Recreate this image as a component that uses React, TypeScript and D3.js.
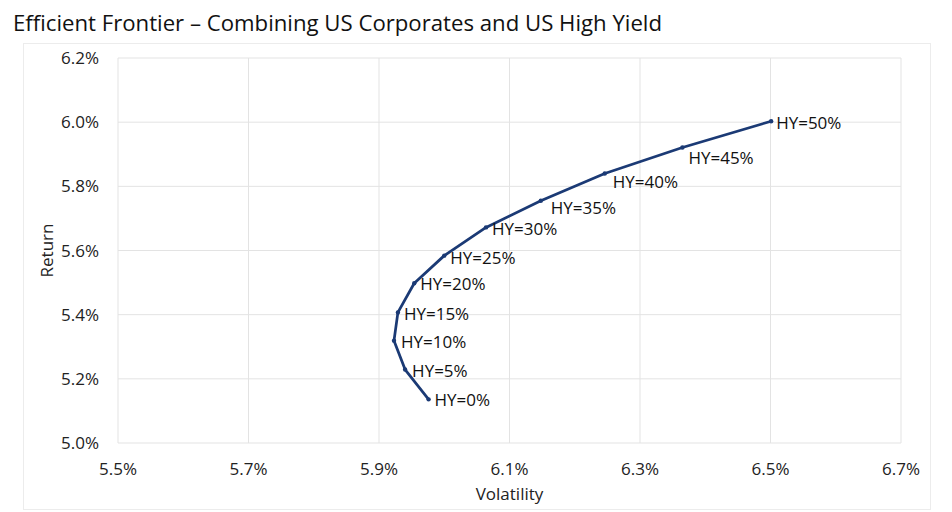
import React from "react";
import * as d3 from "d3";

const hyLabels = ["HY=0%", "HY=5%", "HY=10%", "HY=15%", "HY=20%", "HY=25%", "HY=30%", "HY=35%", "HY=40%", "HY=45%", "HY=50%"];
const volatility = [5.976, 5.940, 5.923, 5.929, 5.954, 6.000, 6.064, 6.148, 6.246, 6.365, 6.501];
const returns = [5.136, 5.229, 5.319, 5.407, 5.498, 5.584, 5.672, 5.755, 5.840, 5.921, 6.003];
const labelDx = [6, 7, 7, 6, 6, 6, 6, 10, 8, 6, 5];
const labelDy = [1, 1, 1, 1, 1, 2, 1.5, 7, 8, 10, 1.5];
const xTicks = [5.5, 5.7, 5.9, 6.1, 6.3, 6.5, 6.7];
const yTicks = [5.0, 5.2, 5.4, 5.6, 5.8, 6.0, 6.2];

const W = 952;
const H = 512;
const plot = { left: 118, right: 901, top: 58, bottom: 443 };
const FONT = "'Open Sans', 'Noto Sans', sans-serif";
const LINE = "#1b3a75";

export default function App() {
  const x = d3.scaleLinear().domain([5.5, 6.7]).range([plot.left, plot.right]);
  const y = d3.scaleLinear().domain([5.0, 6.2]).range([plot.bottom, plot.top]);
  const pts = volatility.map((v, i) => [x(v), y(returns[i])] as [number, number]);
  const path = d3.line()(pts) || "";
  const fmt = (v: number) => v.toFixed(1) + "%";

  return (
    <svg width={W} height={H} style={{ position: "absolute", left: 0, top: 0, background: "#fff" }}>
      <text x={13} y={31} fontFamily={FONT} fontSize={22} fill="#111" textLength={649} lengthAdjust="spacingAndGlyphs">
        Efficient Frontier – Combining US Corporates and US High Yield
      </text>
      <rect x={23.5} y={43.5} width={907} height={466} fill="none" stroke="#ececec" strokeWidth={1} />
      {xTicks.map((t) => (
        <line key={"gx" + t} x1={x(t)} x2={x(t)} y1={plot.top} y2={plot.bottom} stroke="#e3e3e3" strokeWidth={1} />
      ))}
      {yTicks.map((t) => (
        <line key={"gy" + t} x1={plot.left} x2={plot.right} y1={y(t)} y2={y(t)} stroke="#e3e3e3" strokeWidth={1} />
      ))}
      {xTicks.map((t) => (
        <text key={"tx" + t} x={x(t)} y={475} textAnchor="middle" fontFamily={FONT} fontSize={17} fill="#222">
          {fmt(t)}
        </text>
      ))}
      {yTicks.map((t) => (
        <text key={"ty" + t} x={99} y={y(t)} dy="0.36em" textAnchor="end" fontFamily={FONT} fontSize={17} fill="#222">
          {fmt(t)}
        </text>
      ))}
      <text x={(plot.left + plot.right) / 2} y={500} textAnchor="middle" fontFamily={FONT} fontSize={17} fill="#222">
        Volatility
      </text>
      <text transform={`translate(53,${(plot.top + plot.bottom) / 2}) rotate(-90)`} textAnchor="middle" fontFamily={FONT} fontSize={17} fill="#222">
        Return
      </text>
      <path d={path} fill="none" stroke={LINE} strokeWidth={2.75} strokeLinejoin="round" />
      {pts.map((p, i) => (
        <circle key={"c" + i} cx={p[0]} cy={p[1]} r={2.2} fill={LINE} />
      ))}
      {pts.map((p, i) => (
        <text key={"l" + i} x={p[0] + labelDx[i]} y={p[1] + labelDy[i]} dy="0.36em" fontFamily={FONT} fontSize={17} fill="#111">
          {hyLabels[i]}
        </text>
      ))}
    </svg>
  );
}
